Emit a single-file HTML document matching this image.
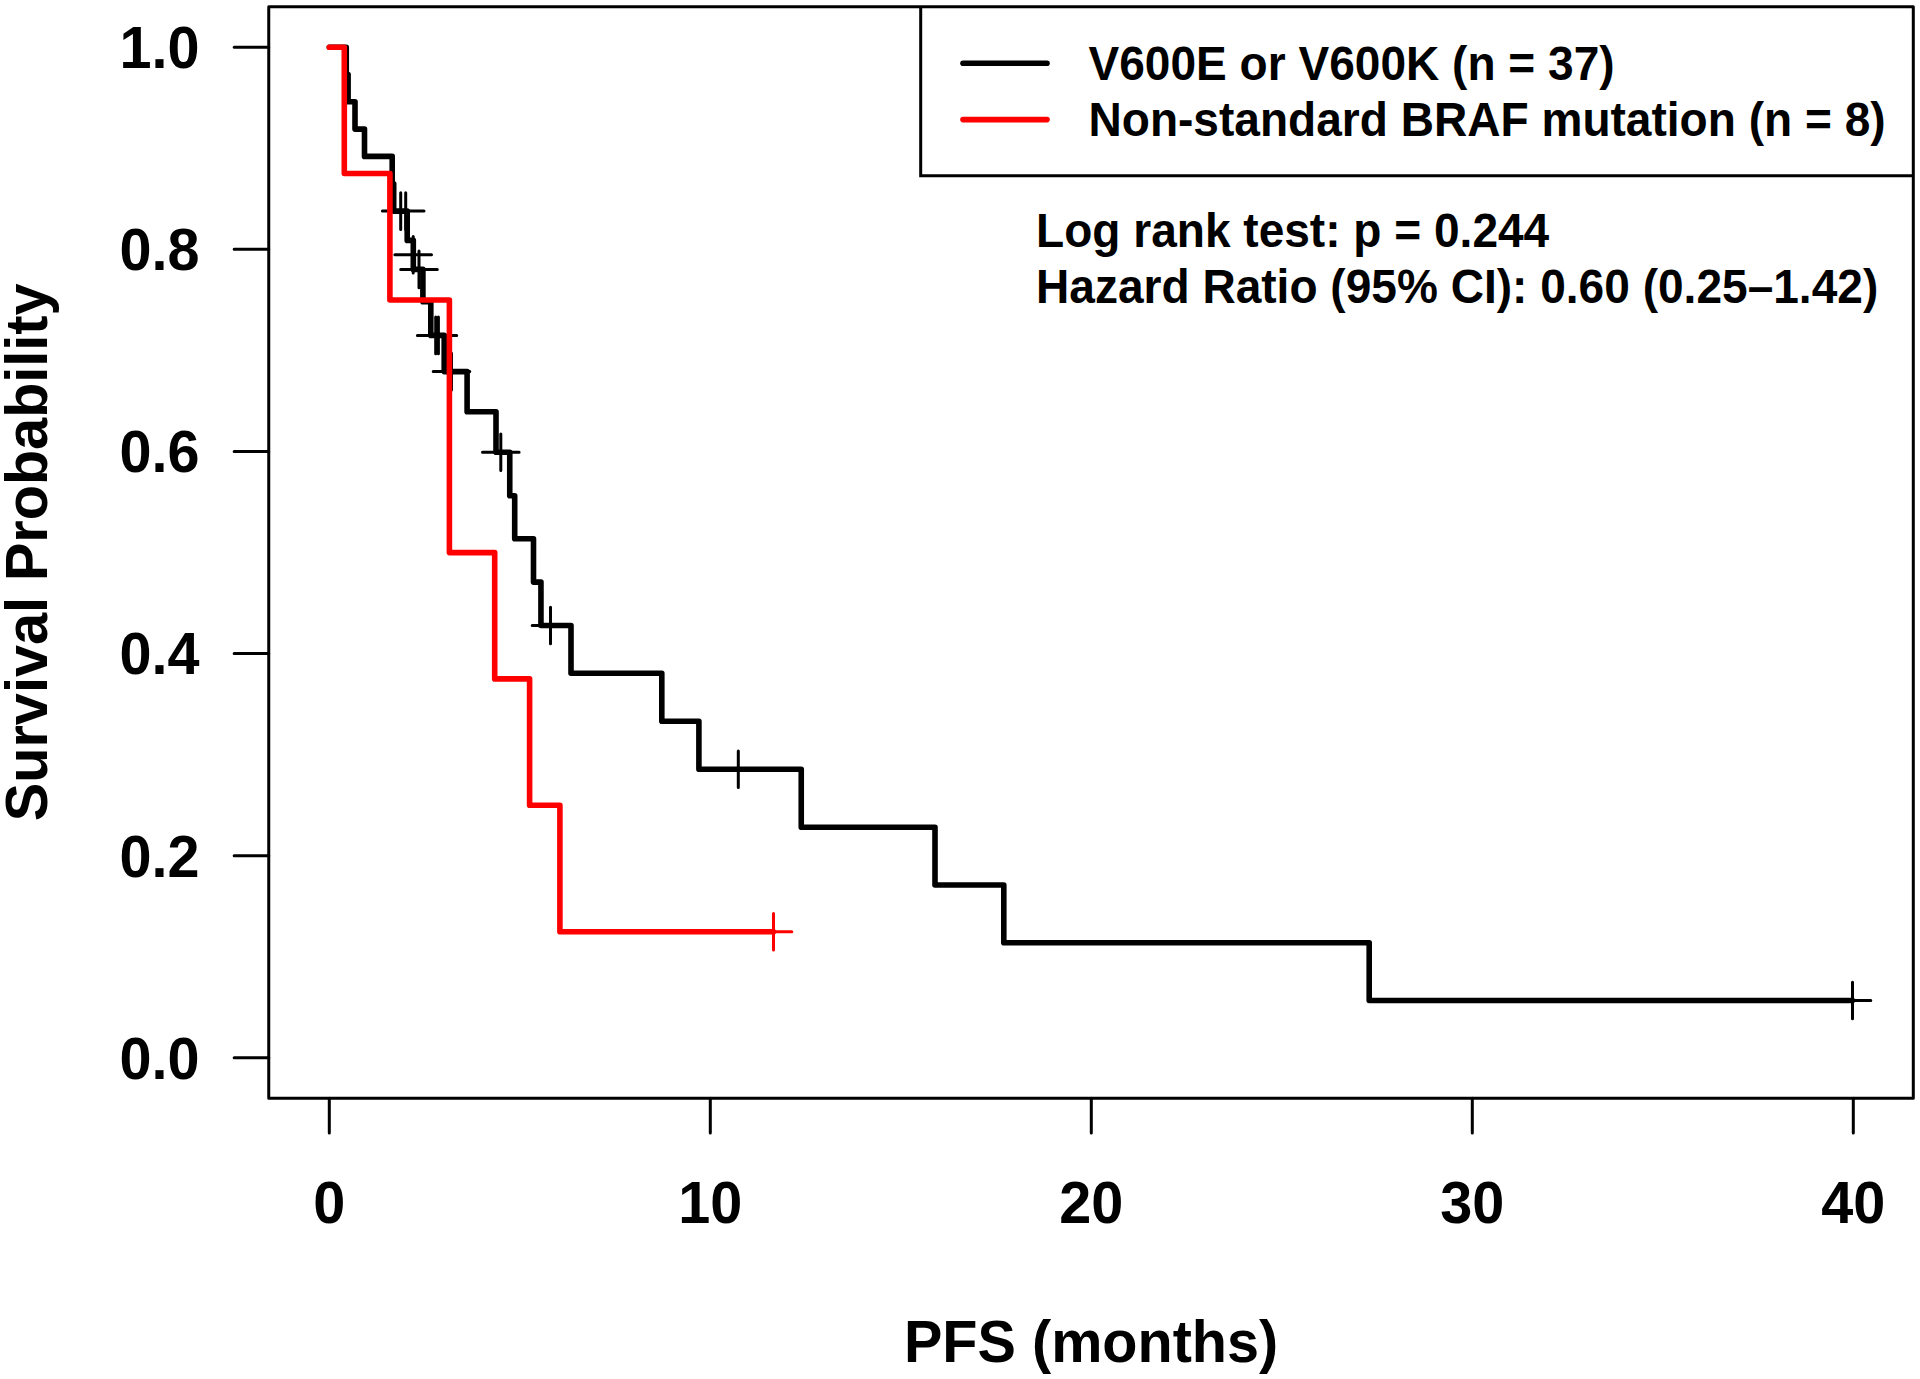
<!DOCTYPE html>
<html lang="en"><head><meta charset="utf-8"><title>Kaplan-Meier PFS</title>
<style>
html,body{margin:0;padding:0;background:#fff}
body{width:1920px;height:1379px;overflow:hidden}
svg{display:block}
text{font-family:"Liberation Sans", Arial, Helvetica, sans-serif;font-weight:bold;fill:#000}
.ax{font-size:57.6px}
.lg{font-size:46.08px}
</style></head><body>
<svg width="1920" height="1379" viewBox="0 0 1920 1379">
<rect x="0" y="0" width="1920" height="1379" fill="#fff"/>

<g fill="none" stroke-linecap="round" stroke-linejoin="round">
<path d="M329.3 47.2H346.25V74.5H348.1V101.8H355V129.1H364.5V156.4H392.2V183.7H393.7V211.1H407.2V240.4H413.3V269.4H422.9V301.8H430.8V335.4H444.2V371.6H467.1V411.8H496V452.2H509.75V495.8H514.7V538.8H533.5V582.1H540.95V625.5H571V673.25H661.8V721.2H698.9V769.3H801.25V827.3H935V885H1003.8V942.7H1369.2V1000.5H1852.5" stroke="#000" stroke-width="5.6"/>
<path d="M382.4 211.1H419M400.7 192.8V229.4M387.4 211.1H424M405.7 192.8V229.4M394.9 254.8H431.5M413.2 236.5V273.1M400.7 269.4H437.3M419 251.1V287.7M417.4 335.4H454M435.7 317.1V353.7M420.1 335.4H456.7M438.4 317.1V353.7M433.2 371.6H469.8M451.5 353.3V389.9M482.5 452.2H519.1M500.8 433.9V470.5M532.2 625.5H568.8M550.5 607.2V643.8M720 769.3H756.6M738.3 751V787.6M1834.2 1000.5H1870.8M1852.5 982.2V1018.8" stroke="#000" stroke-width="3"/>
<path d="M329.3 47.2H344.3V173.5H389.9V300H449.4V552.6H494.7V678.9H529.6V805.2H559.9V931.7H773.5" stroke="#f00" stroke-width="5.6"/>
<path d="M755.2 931.7H791.8M773.5 913.4V950" stroke="#f00" stroke-width="3"/>
<rect x="268.75" y="6.7" width="1644.55" height="1091.6" stroke="#000" stroke-width="3" stroke-linejoin="round"/>
<path d="M329.3 1098.3V1132.9M710.3 1098.3V1132.9M1091.3 1098.3V1132.9M1472.3 1098.3V1132.9M1853.3 1098.3V1132.9M268.75 1057.8H234.15M268.75 855.68H234.15M268.75 653.56H234.15M268.75 451.44H234.15M268.75 249.32H234.15M268.75 47.2H234.15" stroke="#000" stroke-width="3"/>
<path d="M920.7 6.7V175.7H1913.3" stroke="#000" stroke-width="3" stroke-linecap="butt" stroke-linejoin="miter"/>
<path d="M963 63.3H1047" stroke="#000" stroke-width="5.6"/>
<path d="M963 119.6H1047" stroke="#f00" stroke-width="5.6"/>
</g>
<text class="ax" transform="translate(199.5 1078.7) scale(1 1.025)" text-anchor="end">0.0</text>
<text class="ax" transform="translate(199.5 876.58) scale(1 1.025)" text-anchor="end">0.2</text>
<text class="ax" transform="translate(199.5 674.46) scale(1 1.025)" text-anchor="end">0.4</text>
<text class="ax" transform="translate(199.5 472.34) scale(1 1.025)" text-anchor="end">0.6</text>
<text class="ax" transform="translate(199.5 270.22) scale(1 1.025)" text-anchor="end">0.8</text>
<text class="ax" transform="translate(199.5 68.1) scale(1 1.025)" text-anchor="end">1.0</text>
<text class="ax" transform="translate(329.3 1223.2) scale(1 1.025)" text-anchor="middle">0</text>
<text class="ax" transform="translate(710.3 1223.2) scale(1 1.025)" text-anchor="middle">10</text>
<text class="ax" transform="translate(1091.3 1223.2) scale(1 1.025)" text-anchor="middle">20</text>
<text class="ax" transform="translate(1472.3 1223.2) scale(1 1.025)" text-anchor="middle">30</text>
<text class="ax" transform="translate(1853.3 1223.2) scale(1 1.025)" text-anchor="middle">40</text>
<text class="ax" transform="translate(1091.1 1361.5) scale(1 1.025)" text-anchor="middle">PFS (months)</text>
<text class="ax" transform="translate(47.3 552.3) rotate(-90) scale(1 1.025)" text-anchor="middle">Survival Probability</text>
<text class="lg" transform="translate(1088.5 80) scale(1 1.025)">V600E or V600K (n = 37)</text>
<text class="lg" transform="translate(1088.5 136.4) scale(1 1.025)">Non-standard BRAF mutation (n = 8)</text>
<text class="lg" transform="translate(1036 246.8) scale(1 1.025)">Log rank test: p = 0.244</text>
<text class="lg" transform="translate(1036 302.7) scale(1 1.025)">Hazard Ratio (95% CI): 0.60 (0.25–1.42)</text>
</svg>
</body></html>
